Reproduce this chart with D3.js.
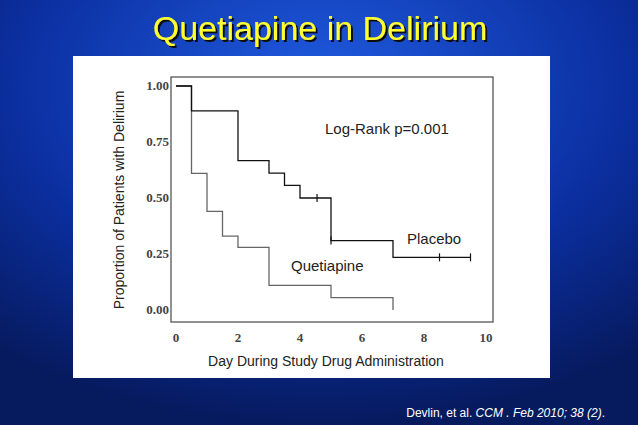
<!DOCTYPE html>
<html>
<head>
<script src="https://d3js.org/d3.v7.min.js"></script>
<style>body{margin:0;}</style>
</head>
<body>
<div class="chart"></div>
<script>
var w = 638, h = 425;
var yTicks = [0, 0.25, 0.5, 0.75, 1.0];
var xTicks = [0, 2, 4, 6, 8, 10];
// step curves: [day, proportion]
var placebo = [[0,1],[0.5,1],[0.5,0.889],[2,0.889],[2,0.667],[3,0.667],[3,0.611],[3.5,0.611],[3.5,0.556],[4,0.556],[4,0.5],[5,0.5],[5,0.31],[7,0.31],[7,0.235],[9.5,0.235]];
var placeboCensor = [[4.55,0.5],[5,0.31],[8.5,0.235],[9.5,0.235]];
var quetiapine = [[0,1],[0.5,1],[0.5,0.61],[1,0.61],[1,0.44],[1.5,0.44],[1.5,0.33],[2,0.33],[2,0.28],[3,0.28],[3,0.11],[5,0.11],[5,0.055],[7,0.055],[7,0]];

var svg = d3.select(".chart").append("svg").attr("width", w).attr("height", h);
var defs = svg.append("defs");
var grad = defs.append("radialGradient").attr("id","bg").attr("cx","50%").attr("cy","20%").attr("r","80%");
grad.append("stop").attr("offset","0%").attr("stop-color","#1f5be0");
grad.append("stop").attr("offset","60%").attr("stop-color","#0b2fa0");
grad.append("stop").attr("offset","100%").attr("stop-color","#061a5e");
svg.append("rect").attr("width", w).attr("height", h).attr("fill","url(#bg)");

var sh = defs.append("filter").attr("id","shadow");
sh.append("feDropShadow").attr("dx",2).attr("dy",2).attr("stdDeviation",0.5).attr("flood-color","#111");
svg.append("text").attr("x", 320).attr("y", 40).attr("text-anchor","middle")
	.attr("font-family","Liberation Sans, Arial").attr("font-size", 34)
	.attr("fill","#ffff33").attr("filter","url(#shadow)").text("Quetiapine in Delirium");

svg.append("rect").attr("x", 73).attr("y", 56).attr("width", 477).attr("height", 322).attr("fill","#fff");

var x = d3.scaleLinear().domain([0,10]).range([176,486]);
var y = d3.scaleLinear().domain([0,1]).range([310,86]);

// frame
svg.append("rect").attr("x",171).attr("y",77).attr("width",322).attr("height",245)
	.attr("fill","none").attr("stroke","#555").attr("stroke-width",1.3);

var serif = "Liberation Serif, Times New Roman";
var sans = "Liberation Sans, Arial";
svg.selectAll(".yt").data(yTicks).enter().append("text")
	.attr("x",169).attr("y",function(d){return y(d)+4;}).attr("text-anchor","end")
	.attr("font-family",serif).attr("font-size",13).attr("font-weight","bold").attr("fill","#444")
	.text(function(d){return d.toFixed(2);});
svg.selectAll(".xt").data(xTicks).enter().append("text")
	.attr("x",function(d){return x(d);}).attr("y",342).attr("text-anchor","middle")
	.attr("font-family",serif).attr("font-size",13).attr("font-weight","bold").attr("fill","#444")
	.text(function(d){return d;});

svg.append("text").attr("x",326).attr("y",366).attr("text-anchor","middle")
	.attr("font-family",sans).attr("font-size",14).attr("fill","#222")
	.text("Day During Study Drug Administration");
svg.append("text").attr("transform","translate(124,200) rotate(-90)").attr("text-anchor","middle")
	.attr("font-family",sans).attr("font-size",14).attr("fill","#222")
	.text("Proportion of Patients with Delirium");

var line = d3.line().x(function(d){return x(d[0]);}).y(function(d){return y(d[1]);});
svg.append("path").attr("d", line(quetiapine)).attr("fill","none").attr("stroke","#666").attr("stroke-width",1.3);
svg.append("path").attr("d", line(placebo)).attr("fill","none").attr("stroke","#111").attr("stroke-width",1.3);
svg.selectAll(".cen").data(placeboCensor).enter().append("line")
	.attr("x1",function(d){return x(d[0]);}).attr("x2",function(d){return x(d[0]);})
	.attr("y1",function(d){return y(d[1])-4;}).attr("y2",function(d){return y(d[1])+4;})
	.attr("stroke","#111").attr("stroke-width",1.2);

svg.append("text").attr("x",325).attr("y",134).attr("font-family",sans).attr("font-size",15).attr("fill","#222").text("Log-Rank p=0.001");
svg.append("text").attr("x",407).attr("y",244).attr("font-family",sans).attr("font-size",15).attr("fill","#222").text("Placebo");
svg.append("text").attr("x",291).attr("y",271).attr("font-family",sans).attr("font-size",15).attr("fill","#222").text("Quetiapine");

var cite = svg.append("text").attr("x",605).attr("y",417).attr("text-anchor","end")
	.attr("font-family",sans).attr("font-size",12).attr("fill","#fff");
cite.append("tspan").text("Devlin, et al. ");
cite.append("tspan").attr("font-style","italic").text("CCM . Feb 2010; 38 (2)");
cite.append("tspan").text(".");
</script>
</body>
</html>
